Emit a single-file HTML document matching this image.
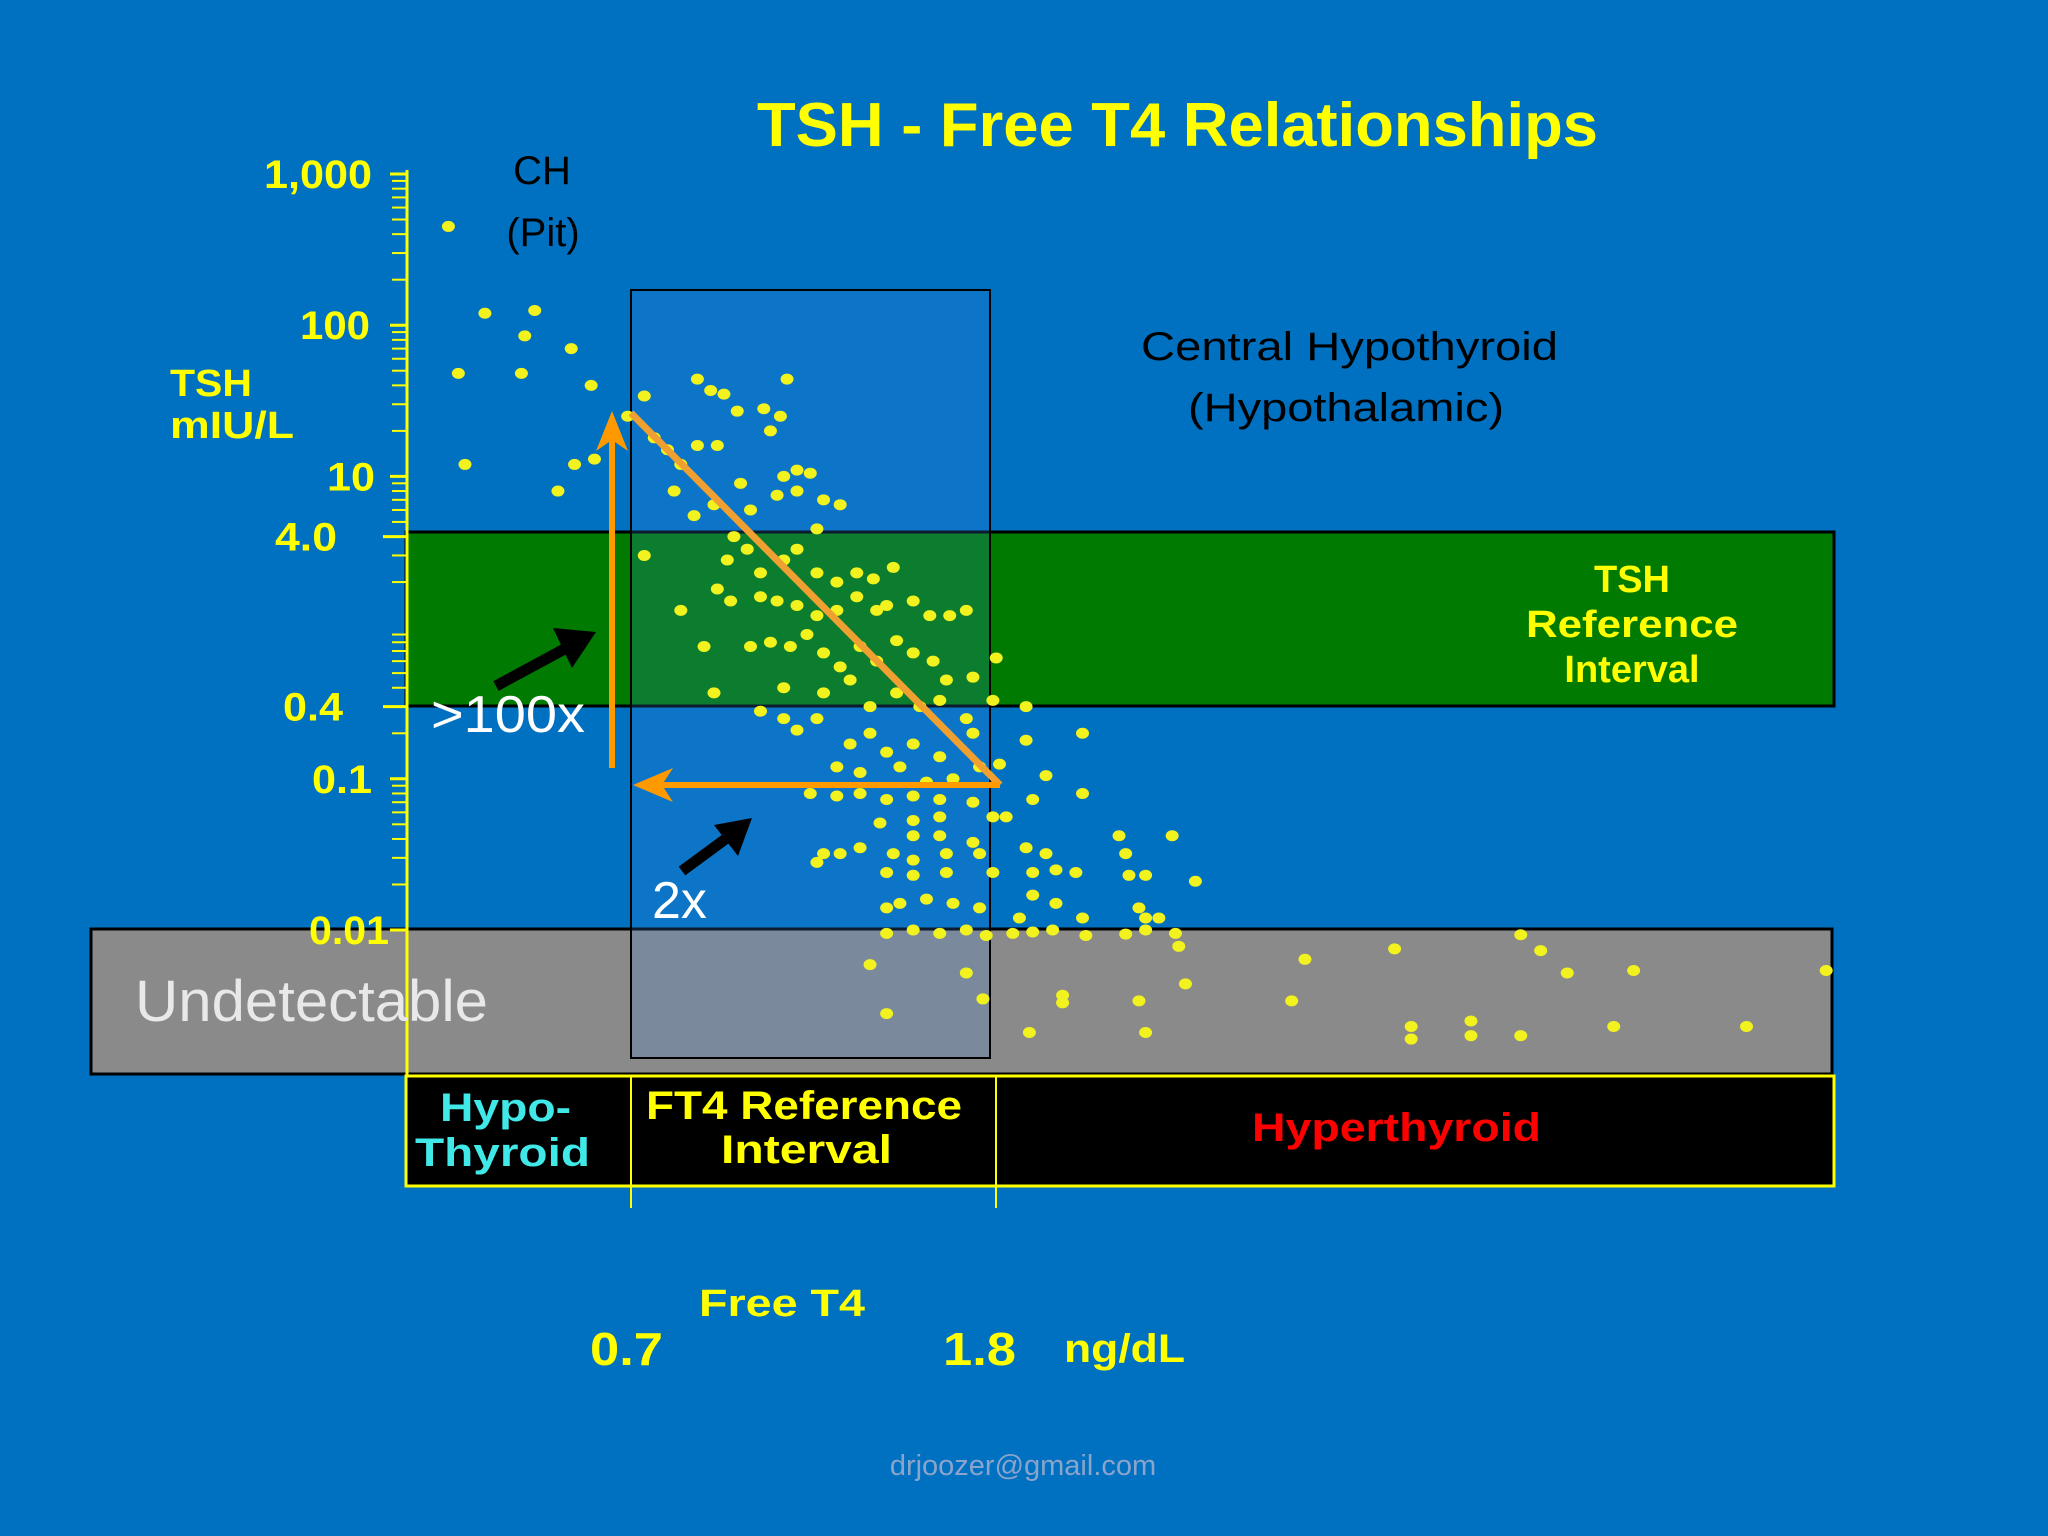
<!DOCTYPE html>
<html><head><meta charset="utf-8"><style>
html,body{margin:0;padding:0;background:#0070c0;}
svg{display:block;font-family:"Liberation Sans",sans-serif;}
</style></head><body>
<svg id="chart" width="2048" height="1536" viewBox="0 0 2048 1536" xmlns="http://www.w3.org/2000/svg">
<rect x="0" y="0" width="2048" height="1536" fill="#0070c0"/>
<text x="757" y="146" font-size="62" font-weight="bold" fill="#ffff00" textLength="841" lengthAdjust="spacingAndGlyphs">TSH  - Free T4 Relationships</text>
<rect x="406" y="532" width="1428" height="174" fill="#007a00" stroke="#000" stroke-width="3"/>
<rect x="91" y="929" width="1741" height="145" fill="#8a8a8a" stroke="#000" stroke-width="3"/>
<rect x="631" y="290" width="359" height="768" fill="rgba(60,140,230,0.2)" stroke="#000" stroke-width="2"/>
<g id="yaxis"></g>
<g id="points"></g>
<rect x="406" y="1076" width="1428" height="110" fill="#000" stroke="#ffff00" stroke-width="3"/>
<line x1="631" y1="1076" x2="631" y2="1208" stroke="#ffff00" stroke-width="2"/>
<line x1="996" y1="1076" x2="996" y2="1208" stroke="#ffff00" stroke-width="2"/>
<text font-size="40" font-weight="bold" fill="#40e8e8"><tspan x="440" y="1121" textLength="131" lengthAdjust="spacingAndGlyphs">Hypo-</tspan><tspan x="415" y="1166" textLength="175" lengthAdjust="spacingAndGlyphs">Thyroid</tspan></text>
<text font-size="40" font-weight="bold" fill="#ffff00"><tspan x="646" y="1119" textLength="316" lengthAdjust="spacingAndGlyphs">FT4 Reference</tspan><tspan x="721" y="1163" textLength="171" lengthAdjust="spacingAndGlyphs">Interval</tspan></text>
<text x="1252" y="1141" font-size="40" font-weight="bold" fill="#ff0000" textLength="289" lengthAdjust="spacingAndGlyphs">Hyperthyroid</text>
<text x="135" y="1021" font-size="58" fill="#e8e8e8" textLength="353" lengthAdjust="spacingAndGlyphs">Undetectable</text>
<text font-size="38" font-weight="bold" fill="#ffff00" text-anchor="middle"><tspan x="1632" y="592">TSH</tspan><tspan x="1632" y="637" textLength="212" lengthAdjust="spacingAndGlyphs">Reference</tspan><tspan x="1632" y="682">Interval</tspan></text>
<text font-size="40" fill="#000" text-anchor="middle"><tspan x="542" y="184">CH</tspan><tspan x="543" y="246">(Pit)</tspan></text>
<text font-size="40" fill="#000"><tspan x="1141" y="360" textLength="417" lengthAdjust="spacingAndGlyphs">Central Hypothyroid</tspan><tspan x="1188" y="421" textLength="316" lengthAdjust="spacingAndGlyphs">(Hypothalamic)</tspan></text>
<text font-size="38" font-weight="bold" fill="#ffff00"><tspan x="170" y="396" textLength="82" lengthAdjust="spacingAndGlyphs">TSH</tspan><tspan x="170" y="438" textLength="124" lengthAdjust="spacingAndGlyphs">mIU/L</tspan></text>
<g id="arrows">
<line x1="631" y1="413" x2="1000" y2="785" stroke="#f0a030" stroke-width="7"/>
<line x1="612" y1="768" x2="612" y2="430" stroke="#ff9900" stroke-width="6"/>
<polygon points="612,411 596,451 612,440 628,451" fill="#ff9900"/>
<line x1="1000" y1="785" x2="650" y2="785" stroke="#ff9900" stroke-width="6"/>
<polygon points="633,785 673,768 662,785 673,802" fill="#ff9900"/>
<line x1="496" y1="686" x2="570" y2="646" stroke="#000" stroke-width="11"/>
<polygon points="596,632 553,628 572,668" fill="#000"/>
<line x1="682" y1="871" x2="735" y2="832" stroke="#000" stroke-width="11"/>
<polygon points="752,818 714,825 738,856" fill="#000"/>
</g>
<text x="431" y="732" font-size="52" fill="#fff" textLength="154" lengthAdjust="spacingAndGlyphs">&gt;100x</text>
<text x="652" y="918" font-size="52" fill="#fff">2x</text>
<text x="699" y="1316" font-size="38" font-weight="bold" fill="#ffff00" textLength="166" lengthAdjust="spacingAndGlyphs">Free T4</text>
<text x="590" y="1365" font-size="46" font-weight="bold" fill="#ffff00" textLength="73" lengthAdjust="spacingAndGlyphs">0.7</text>
<text x="943" y="1365" font-size="46" font-weight="bold" fill="#ffff00" textLength="73" lengthAdjust="spacingAndGlyphs">1.8</text>
<text x="1064" y="1362" font-size="40" font-weight="bold" fill="#ffff00" textLength="121" lengthAdjust="spacingAndGlyphs">ng/dL</text>
<text x="1023" y="1475" font-size="29" fill="#8aa4cc" text-anchor="middle">drjoozer@gmail.com</text>
</svg>
<script>
const tickValues=[1000,100,10,4,0.3,0.1,0.01];
const tickLabels=["1,000","100","10","4.0","0.4","0.1","0.01"];
const ft4=[0.15,0.26,0.41,0.38,0.52,0.18,0.37,0.58,0.2,0.48,0.53,0.59,
0.74,0.69,0.9,0.94,0.98,1.02,1.1,1.15,1.17,1.12,0.81,0.85,0.9,0.96,0.77,0.83,0.89,0.95,1.03,1.06,1.16,1.2,1.24,1.2,1.28,1.33,1.14,1.26,
0.74,1.01,1.05,0.99,1.09,1.16,1.2,1.26,1.32,1.38,1.43,1.49,0.96,1,1.09,1.14,1.2,1.26,1.32,1.38,1.44,1.47,1.55,1.6,1.66,1.71,0.85,
0.92,1.06,1.12,1.18,1.23,1.28,1.33,1.39,1.44,1.5,1.55,1.61,1.65,1.73,1.8,0.95,1.16,1.28,1.36,1.42,1.5,1.57,1.63,1.71,1.79,1.89,
1.09,1.16,1.26,1.2,1.36,1.42,1.47,1.55,1.63,1.73,1.89,2.06,1.81,1.32,1.39,1.51,1.59,1.67,1.75,1.24,1.32,1.39,1.47,1.55,1.63,1.73,1.79,1.83,
1.95,2.06,1.91,1.55,1.63,1.45,1.55,1.63,1.73,1.39,1.28,1.33,1.26,1.49,1.55,1.65,1.75,1.89,1.95,2.17,2.33,2.19,
1.47,1.55,1.65,1.79,1.91,1.98,2.04,2.2,2.25,2.4,1.47,1.51,1.59,1.67,1.75,1.91,1.98,2.06,1.87,2.25,2.23,2.29,
1.47,1.55,1.63,1.71,1.77,1.85,1.91,1.97,2.07,2.19,2.25,2.34,2.35,1.42,1.71,1.76,1.47,1.9,2,2,2.23,2.25,2.37,2.69,2.73,3,3.05,3.05,3.23,3.23,3.38,3.38,3.44,3.52,3.72,3.66,4.06,4.3];
const tsh=[450,120,125,85,70,48,48,40,12,8,12,13,
34,25,44,37,35,27,28,25,44,20,15,12,16,16,18,8,5.5,6.5,9,6,10,11,10.5,8,7,6.5,7.5,4.5,
3,4,3.3,2.8,2.3,2.8,3.3,2.3,2,2.3,2.1,2.5,1.8,1.5,1.6,1.5,1.4,1.2,1.3,1.6,1.3,1.4,1.5,1.2,1.2,1.3,1.3,
0.75,0.75,0.8,0.75,0.9,0.68,0.55,0.75,0.6,0.82,0.68,0.6,0.45,0.47,0.63,0.37,0.4,0.37,0.45,0.3,0.37,0.3,0.33,0.25,0.33,0.3,
0.28,0.25,0.25,0.21,0.17,0.2,0.15,0.17,0.14,0.2,0.18,0.2,0.125,0.12,0.11,0.12,0.095,0.1,0.12,0.08,0.077,0.08,0.073,0.077,0.073,0.07,0.056,0.056,
0.105,0.08,0.073,0.053,0.056,0.051,0.042,0.042,0.038,0.035,0.032,0.032,0.028,0.032,0.029,0.032,0.032,0.035,0.032,0.042,0.042,0.032,
0.024,0.023,0.024,0.024,0.024,0.025,0.024,0.023,0.023,0.021,0.014,0.015,0.016,0.015,0.014,0.017,0.015,0.012,0.012,0.012,0.014,0.012,
0.0095,0.01,0.0095,0.01,0.0092,0.0095,0.0097,0.01,0.0092,0.0094,0.01,0.0095,0.0078,0.0059,0.0052,0.0035,0.0028,0.0021,0.0037,0.0033,0.0034,0.0021,0.0044,0.0034,0.0064,0.0075,0.0023,0.0019,0.0025,0.002,0.002,0.0093,0.0073,0.0052,0.0054,0.0023,0.0023,0.0054];
const NS="http://www.w3.org/2000/svg";
function xScale(v){return 631+(v-0.7)*332;}
function yScale(v){return 174+(3-Math.log10(v))*151.2;}
const ax=document.getElementById('yaxis');
function mk(t,a,p){const e=document.createElementNS(NS,t);for(const k in a)e.setAttribute(k,a[k]);p.appendChild(e);return e;}
const axl=mk('line',{x1:407,y1:170,x2:407,y2:1085,stroke:'#ffff00','stroke-width':3},ax);


for(let d=-2;d<3;d++){for(let m=2;m<10;m++){const yy=yScale(m*Math.pow(10,d));
const t=mk('line',{x1:392,y1:yy,x2:407,y2:yy,stroke:'#ffff00','stroke-width':2},ax);

}}
const labW={"1,000":108,"100":70,"10":48,"4.0":62,"0.4":60,"0.1":60,"0.01":80};
tickValues.forEach((v,i)=>{const yy=yScale(v);
const big=(tickLabels[i]==="4.0"||tickLabels[i]==="0.4");
const t=mk('line',{x1:big?383:390,y1:yy,x2:407,y2:yy,stroke:'#ffff00','stroke-width':3},ax);


const rx={"1,000":372,"100":370,"10":375,"4.0":337,"0.4":343,"0.1":372,"0.01":389}[tickLabels[i]];
const w=labW[tickLabels[i]];
const tx=mk('text',{x:rx-w,y:yy+14,'font-size':40,'font-weight':'bold',fill:'#ffff00',textLength:w,lengthAdjust:'spacingAndGlyphs'},ax);
tx.textContent=tickLabels[i];

});
const pg=document.getElementById('points');
for(let i=0;i<ft4.length;i++){
const c=mk('ellipse',{cx:xScale(ft4[i]),cy:yScale(tsh[i]),rx:6.5,ry:5.5,fill:'#f2f21e'},pg);

}
</script>
</body></html>
